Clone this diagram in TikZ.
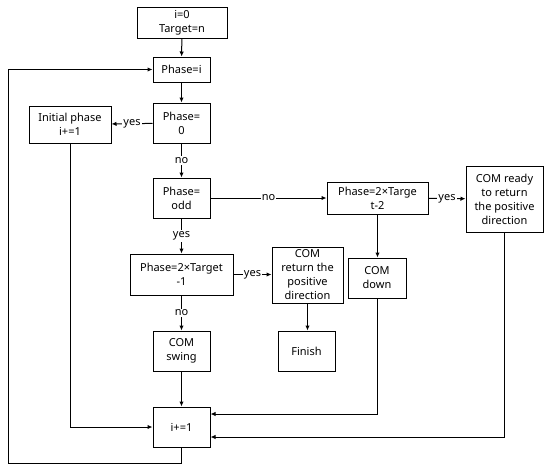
\documentclass[tikz,border=0pt]{standalone}
\usepackage{fontspec}
\setmainfont{Noto Sans}
\usetikzlibrary{arrows.meta}
\tikzset{
  box/.style={draw, line width=1pt, align=center, inner sep=1pt, font=\fontsize{11pt}{14pt}\selectfont},
  conn/.style={line width=1pt, -{Latex[length=5pt,width=4.5pt]}},
  lab/.style={fill=white, inner sep=1.2pt, font=\fontsize{11pt}{12pt}\selectfont}
}
\begin{document}
\begin{tikzpicture}[x=1pt,y=-1pt]
\useasboundingbox (0,0) rectangle (550,469);
\node[box, minimum width=90pt, minimum height=31pt] (init) at (182,22.5) {i=0\\Target=n};
\node[box, minimum width=57pt, minimum height=25pt] (phasei) at (181.5,69.5) {Phase=i};
\node[box, minimum width=57pt, minimum height=40pt] (phase0) at (181.5,123) {Phase=\\0};
\node[box, minimum width=82pt, minimum height=37pt] (initial) at (70,124.5) {Initial phase\\i+=1};
\node[box, minimum width=57pt, minimum height=40pt] (odd) at (181.5,198) {Phase=\\odd};
\node[box, minimum width=101pt, minimum height=32pt] (ptt) at (377.5,198) {Phase=2×Targe\\t-2};
\node[box, minimum width=77pt, minimum height=66pt] (ready) at (504.5,199) {COM ready\\to return\\the positive\\direction};
\node[box, minimum width=103pt, minimum height=41pt] (pto) at (181.5,274.5) {Phase=2×Target\\-1};
\node[box, minimum width=71pt, minimum height=56pt] (ret) at (307.5,275) {COM\\return the\\positive\\direction};
\node[box, minimum width=58pt, minimum height=40pt] (down) at (377,278) {COM\\down};
\node[box, minimum width=57pt, minimum height=40pt] (swing) at (181.5,351) {COM\\swing};
\node[box, minimum width=57pt, minimum height=40pt] (finish) at (306.5,351) {Finish};
\node[box, minimum width=57pt, minimum height=40pt] (inc) at (181.5,427) {i+=1};
\coordinate (lb) at (8,463);

\draw[conn] (init) -- (phasei);
\draw[conn] (phasei) -- (phase0);
\draw[conn] (phase0) -- node[lab] {yes} (initial);
\draw[conn] (phase0) -- node[lab] {no} (odd);
\draw[conn] (odd) -- node[lab] {no} (ptt);
\draw[conn] (ptt) -- node[lab] {yes} (ready);
\draw[conn] (ptt.south) -- (ptt.south |- down.north);
\draw[conn] (odd) -- node[lab] {yes} (pto);
\draw[conn] (pto.east) -- node[lab] {yes} (pto.east -| ret.west);
\draw[conn] (pto) -- node[lab] {no} (swing);
\draw[conn] (ret.south) -- (ret.south |- finish.north);
\draw[conn] (swing) -- (inc);
\draw[conn] (initial.south) |- (inc.west);
\draw[conn] (down.south) |- ([yshift=13pt]inc.east);
\draw[conn] (ready.south) |- ([yshift=-10pt]inc.east);
\draw[conn] (inc.south) |- (lb) |- (phasei.west);
\end{tikzpicture}
\end{document}
